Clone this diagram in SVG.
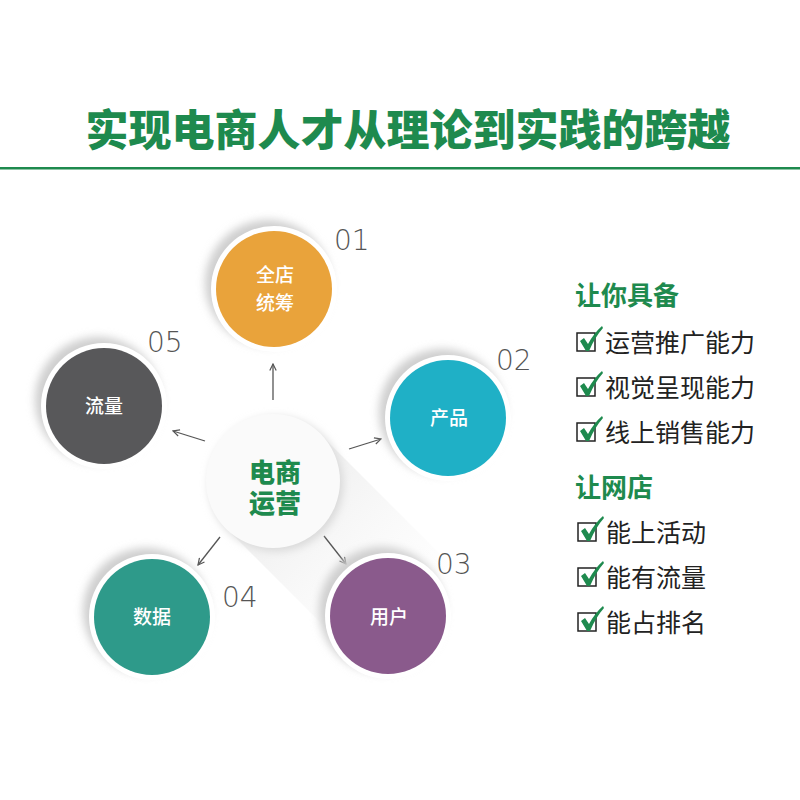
<svg xmlns="http://www.w3.org/2000/svg" width="800" height="800" viewBox="0 0 800 800">
<defs>
<style>
.title{font-family:"Noto Sans CJK SC",sans-serif;font-weight:900;font-size:43px;fill:#1e8a4e}
.num{font-family:"DejaVu Sans","Noto Sans",sans-serif;font-weight:200;font-size:28px;fill:#555}
.lbl{font-family:"Noto Sans CJK SC",sans-serif;font-weight:500;font-size:19px;fill:#fff;text-anchor:middle}
.ctr{font-family:"Noto Sans CJK SC",sans-serif;font-weight:900;font-size:26px;fill:#1e8a4e;text-anchor:middle}
.hd{font-family:"Noto Sans CJK SC",sans-serif;font-weight:700;font-size:26px;fill:#1e8a4e}
.it{font-family:"Noto Sans CJK SC",sans-serif;font-size:25px;fill:#222}
.box{fill:#fff;stroke:#222;stroke-width:1.5}
.chk{fill:#1e8a4e}
.ring{fill:#fff}
.conn line{stroke:#555;stroke-width:1.3}
</style>
<filter id="sh" x="-30%" y="-30%" width="160%" height="160%"><feGaussianBlur stdDeviation="4"/></filter>
<linearGradient id="ls" x1="0" y1="0" x2="1" y2="1"><stop offset="0" stop-color="#e2e2e2"/><stop offset="1" stop-color="#ffffff" stop-opacity="0"/></linearGradient>
<marker id="ah" viewBox="0 0 10 10" refX="9" refY="5" markerWidth="8" markerHeight="8" orient="auto" markerUnits="userSpaceOnUse"><path d="M1,1 L9,5 L1,9" fill="none" stroke="#555" stroke-width="1.5"/></marker>
<path id="ck" d="M0,10 L4,7 L8,13 Q14,2 22,-5 L23,-3 Q15,6 9,20 L6,20 Z"/>
</defs>
<rect width="800" height="800" fill="#fff"/>
<text class="title" x="408" y="146" text-anchor="middle">实现电商人才从理论到实践的跨越</text>
<rect x="0" y="167" width="800" height="2.5" fill="#1e8a4e"/>

<polygon points="226,528 320,434 450,564 356,658" fill="url(#ls)"/>

<g class="conn">
<line x1="273" y1="400" x2="273" y2="364" marker-end="url(#ah)"/>
<line x1="349" y1="449" x2="381" y2="439" marker-end="url(#ah)"/>
<line x1="324" y1="536" x2="346" y2="564" marker-end="url(#ah)"/>
<line x1="220" y1="537" x2="198" y2="565" marker-end="url(#ah)"/>
<line x1="205" y1="441" x2="173" y2="431" marker-end="url(#ah)"/>
</g>

<g id="center">
<circle cx="276" cy="484" r="67" fill="#d8d8d8" filter="url(#sh)"/>
<circle cx="273" cy="481" r="67" fill="#fafafa"/>
<text class="ctr" x="275" y="482">电商<tspan x="275" dy="31">运营</tspan></text>
</g>

<g id="n01">
<circle cx="268" cy="283" r="63" fill="#cfcfcf" filter="url(#sh)"/>
<circle cx="274" cy="289" r="63" class="ring"/>
<circle cx="274" cy="289" r="58" fill="#e9a33b"/>
<text class="lbl" x="275" y="282">全店<tspan x="275" dy="28">统筹</tspan></text>
<text class="num" x="334" y="250">01</text>
</g>

<g id="n02">
<circle cx="442" cy="412" r="63" fill="#cfcfcf" filter="url(#sh)"/>
<circle cx="448" cy="418" r="63" class="ring"/>
<circle cx="448" cy="418" r="58" fill="#1fb0c6"/>
<text class="lbl" x="449" y="425">产品</text>
<text class="num" x="496" y="370">02</text>
</g>

<g id="n03">
<circle cx="382" cy="610" r="63" fill="#cfcfcf" filter="url(#sh)"/>
<circle cx="388" cy="616" r="63" class="ring"/>
<circle cx="388" cy="616" r="58" fill="#8a5a8c"/>
<text class="lbl" x="389" y="624">用户</text>
<text class="num" x="436" y="574">03</text>
</g>

<g id="n04">
<circle cx="146" cy="611" r="63" fill="#cfcfcf" filter="url(#sh)"/>
<circle cx="152" cy="617" r="63" class="ring"/>
<circle cx="152" cy="617" r="58" fill="#2e9a8a"/>
<text class="lbl" x="152" y="624">数据</text>
<text class="num" x="222" y="607">04</text>
</g>

<g id="n05">
<circle cx="98" cy="400" r="63" fill="#cfcfcf" filter="url(#sh)"/>
<circle cx="104" cy="406" r="63" class="ring"/>
<circle cx="104" cy="406" r="58" fill="#58585a"/>
<text class="lbl" x="104" y="413">流量</text>
<text class="num" x="147" y="352">05</text>
</g>

<g id="list1">
<text class="hd" x="575" y="305">让你具备</text>
<rect class="box" x="577" y="333" width="18" height="18"/><use href="#ck" class="chk" x="580" y="331"/>
<text class="it" x="605" y="352">运营推广能力</text>
<rect class="box" x="577" y="378" width="18" height="18"/><use href="#ck" class="chk" x="580" y="376"/>
<text class="it" x="605" y="397">视觉呈现能力</text>
<rect class="box" x="577" y="423" width="18" height="18"/><use href="#ck" class="chk" x="580" y="421"/>
<text class="it" x="605" y="442">线上销售能力</text>
</g>

<g id="list2">
<text class="hd" x="575" y="497">让网店</text>
<rect class="box" x="578" y="523" width="18" height="18"/><use href="#ck" class="chk" x="581" y="521"/>
<text class="it" x="606" y="542">能上活动</text>
<rect class="box" x="578" y="568" width="18" height="18"/><use href="#ck" class="chk" x="581" y="566"/>
<text class="it" x="606" y="587">能有流量</text>
<rect class="box" x="578" y="613" width="18" height="18"/><use href="#ck" class="chk" x="581" y="611"/>
<text class="it" x="606" y="632">能占排名</text>
</g>
</svg>
